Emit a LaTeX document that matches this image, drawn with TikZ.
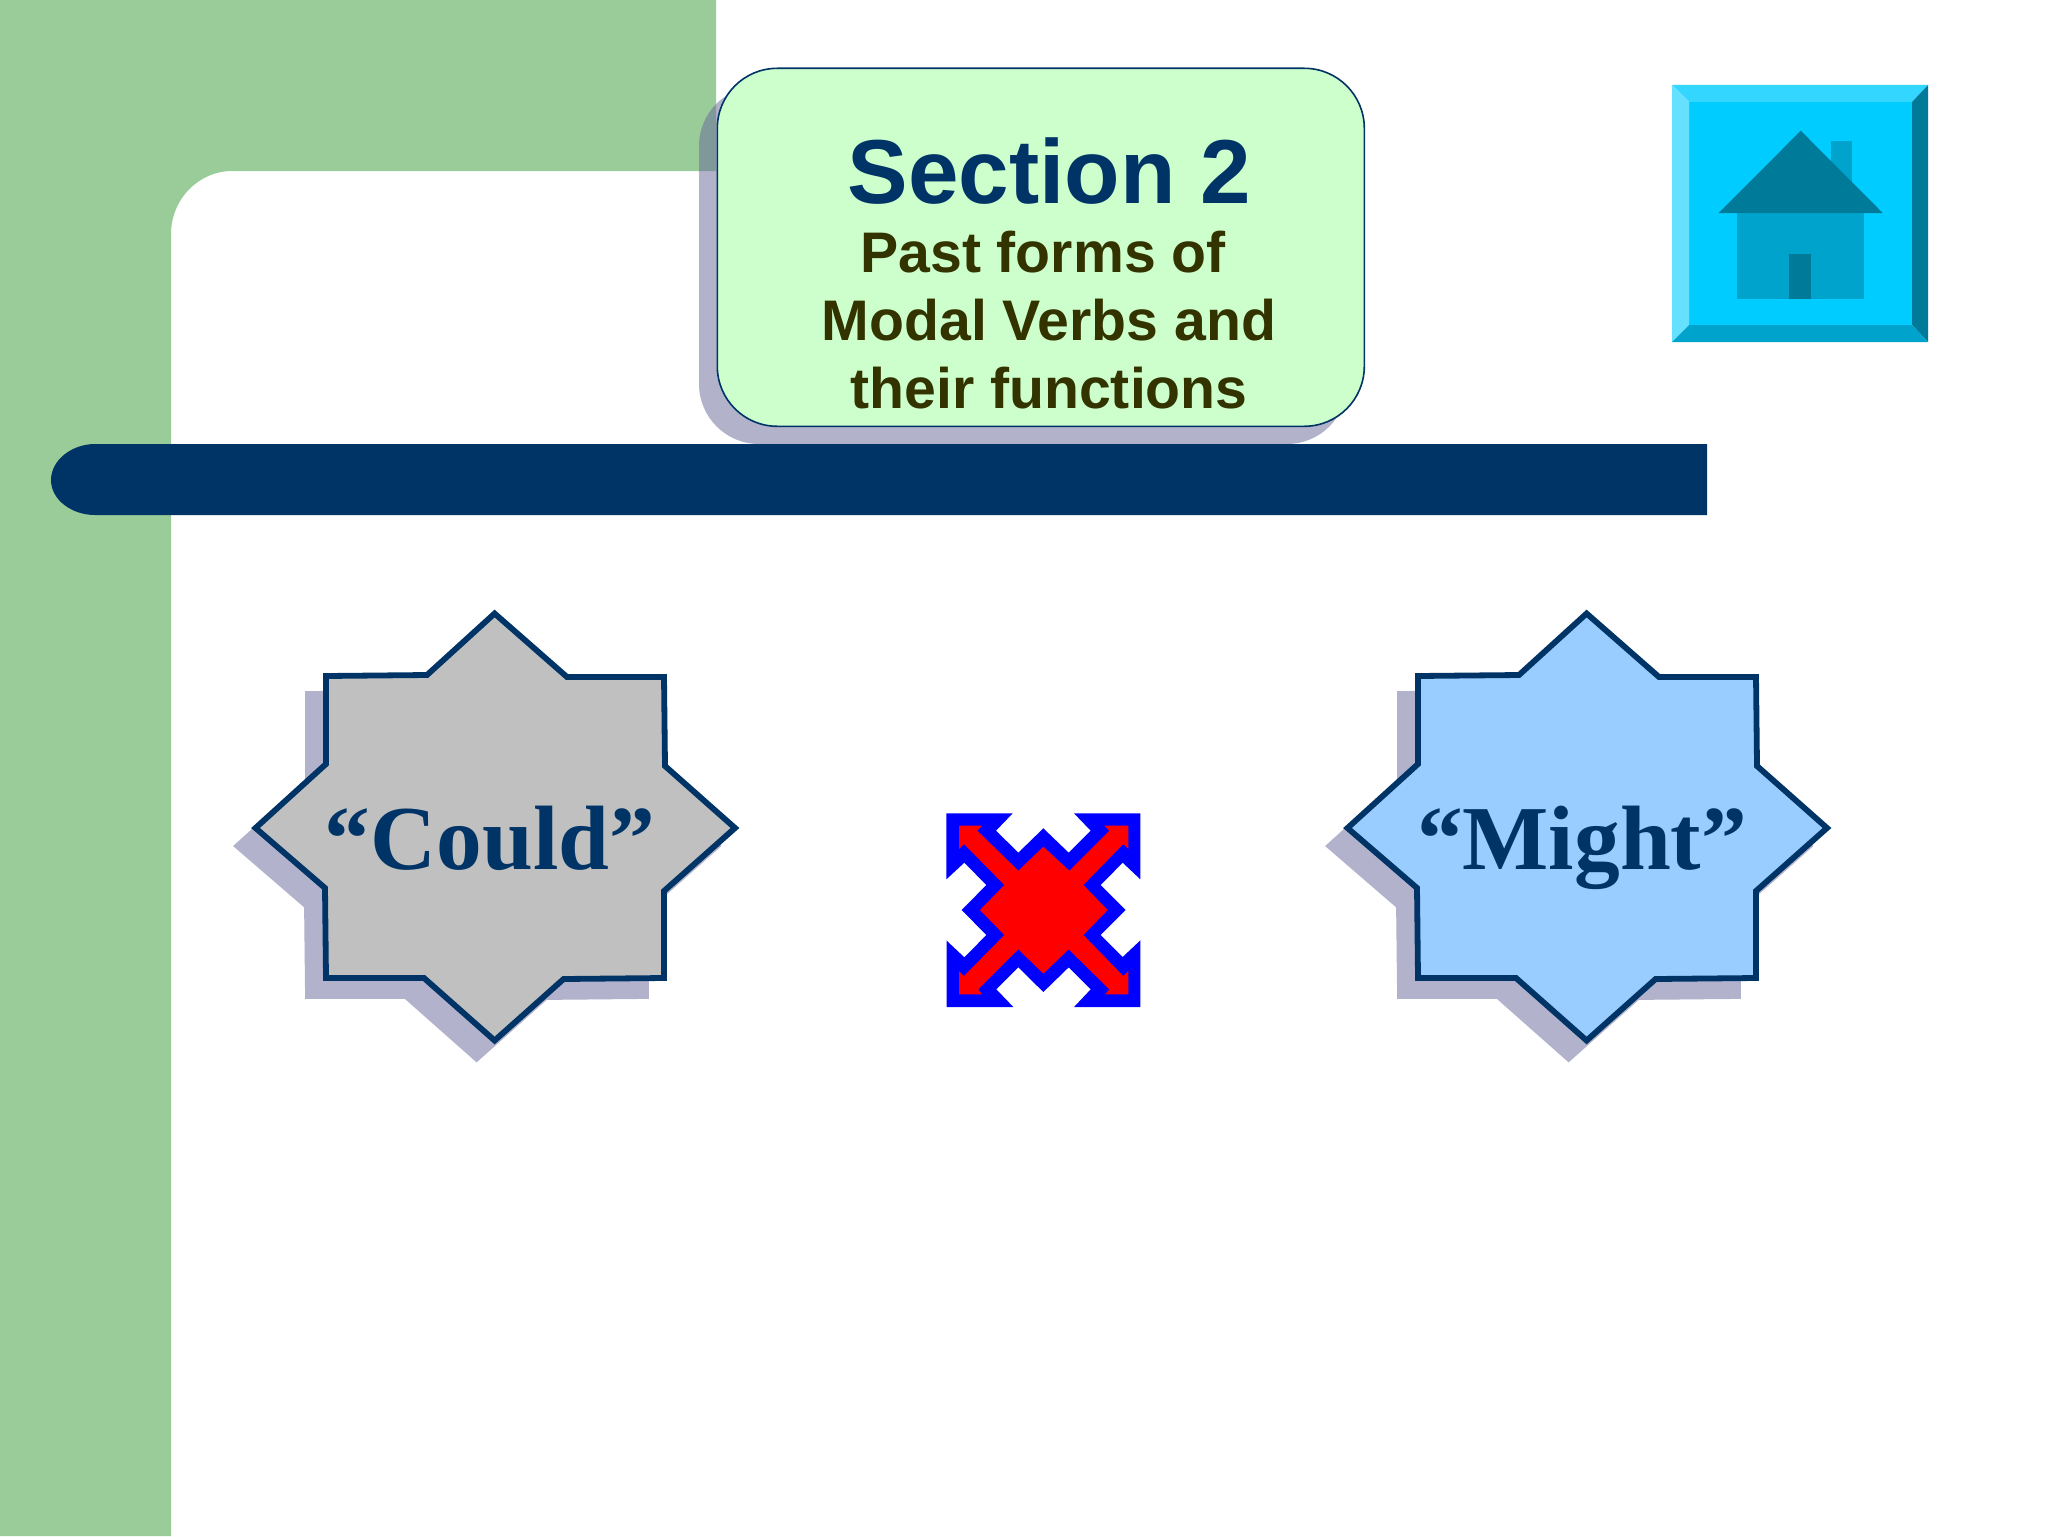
\documentclass[tikz,border=0pt]{standalone}
\usepackage{fontspec}
\setmainfont{Liberation Serif}
\newfontfamily\arialfont{Liberation Sans}
\definecolor{panelgreen}{HTML}{99CC99}
\definecolor{navy}{HTML}{003366}
\definecolor{mint}{HTML}{CCFFCC}
\definecolor{olivetext}{HTML}{333300}
\definecolor{shadowc}{HTML}{666699}
\definecolor{starshadow}{HTML}{B2B2CC}
\definecolor{skyfill}{HTML}{99CCFF}
\definecolor{greyfill}{HTML}{C0C0C0}
\definecolor{btnC}{HTML}{00CCFF}
\definecolor{btnT}{HTML}{33D6FF}
\definecolor{btnL}{HTML}{66E0FF}
\definecolor{btnR}{HTML}{007A99}
\definecolor{btnB}{HTML}{00A3CC}
\tikzset{
  shadowfill/.style={fill=starshadow,draw=starshadow,line width=2.9pt,miter limit=10},
  starline/.style={draw=navy,line width=2.9pt,miter limit=10},
  headline/.style={anchor=base,inner sep=0,font=\arialfont\bfseries\fontsize{45.4}{54}\selectfont,text=navy},
  subline/.style={anchor=base,inner sep=0,font=\arialfont\bfseries\fontsize{28.6}{34}\selectfont,text=olivetext},
  starword/.style={anchor=base,inner sep=0,font=\bfseries\fontsize{45.7}{54}\selectfont,text=navy},
  starpath/.pic={
    \path[pic actions] (494.6,613.5)--(567,677)--(664,677)--(665,766)--(735,828)--(664,891)--(664,978)--(563.6,979)--(494.6,1040.5)--(424,978)--(326,978)--(325,888)--(255.5,828)--(326,764)--(326,676)--(427,675)--cycle;
  }
}
\begin{document}
\begin{tikzpicture}[x=0.5pt,y=-0.5pt]
\useasboundingbox (0,0) rectangle (2048,1536);
\fill[white] (0,0) rectangle (2048,1536);
% green frame
\fill[panelgreen] (0,0)--(716,0)--(716,171)--(232,171)
  .. controls (199,171) and (171,199) .. (171,234)--(171,1536)--(0,1536)--cycle;
% title box
\fill[shadowc,fill opacity=.5,rounded corners=30pt] (699,86) rectangle (1347,444);
\node[draw=navy,fill=mint,line width=.8pt,rounded corners=30pt,minimum width=323.5pt,minimum height=179pt,inner sep=0,anchor=north west] (titlebox) at (716.5,67.5) {};
\node[headline] (title) at (1049.5,203) {Section 2};
\node[subline] (l1) at (1043,272) {Past forms of};
\node[subline] (l2) at (1049,340) {Modal Verbs and};
\node[subline] (l3) at (1049,408) {their functions};
% bar
\fill[navy] (1707,444)--(1707,515)--(95,515) .. controls (72,515) and (51,500) .. (51,480) .. controls (51,460) and (72,444) .. (95,444)--cycle;
% home button
\fill[btnC] (1689,102) rectangle (1912,325);
\fill[btnT] (1672,85)--(1928,85)--(1912,102)--(1689,102)--cycle;
\fill[btnL] (1672,85)--(1689,102)--(1689,325)--(1672,342)--cycle;
\fill[btnR] (1928,85)--(1928,342)--(1912,325)--(1912,102)--cycle;
\fill[btnB] (1672,342)--(1928,342)--(1912,325)--(1689,325)--cycle;
\fill[btnB] (1830.7,140.7) rectangle (1852,185);
\fill[btnB] (1737,213) rectangle (1863.7,298.7);
\fill[btnR] (1800.7,130.7)--(1882.7,213)--(1718.7,213)--cycle;
\fill[btnR] (1789.3,254.3) rectangle (1811.3,298.7);
% left star
\pic[shadowfill] at (-18,18) {starpath};
\pic[starline,fill=greyfill] at (0,0) {starpath};
\node[starword] (could) at (490,869) {“Could”};
% right star
\pic[shadowfill] at (1074,18) {starpath};
\pic[starline,fill=skyfill] at (1092,0) {starpath};
\node[starword] (might) at (1582,869) {“Might”};
% arrows icon
\begin{scope}[shift={(880,780)},x=0.16667pt,y=-0.16667pt]
\fill[blue] (199,100)--(398,100)--(348,152)--(415,218)--(490,145)--(566,218)--(632,152)--(582,100)--(781,100)--(781,298)--(728,248)--(662,315)--(737,390)--(662,465)--(728,531)--(781,481)--(781,681)--(582,681)--(632,628)--(566,562)--(490,636)--(415,562)--(349,628)--(400,681)--(200,681)--(200,482)--(253,532)--(319,465)--(245,390)--(319,315)--(253,248)--(199,298)--cycle;
\fill[red] (237,137)--(306,137)--(292,152)--(415,272)--(490,200)--(568,272)--(688,152)--(673,137)--(745,137)--(745,207)--(730,192)--(610,315)--(683,390)--(610,465)--(730,588)--(745,573)--(745,643)--(675,643)--(688,628)--(566,508)--(490,581)--(415,508)--(295,628)--(306,643)--(237,643)--(237,573)--(252,588)--(373,465)--(300,390)--(373,315)--(252,192)--(237,207)--cycle;
\end{scope}
\end{tikzpicture}
\end{document}
